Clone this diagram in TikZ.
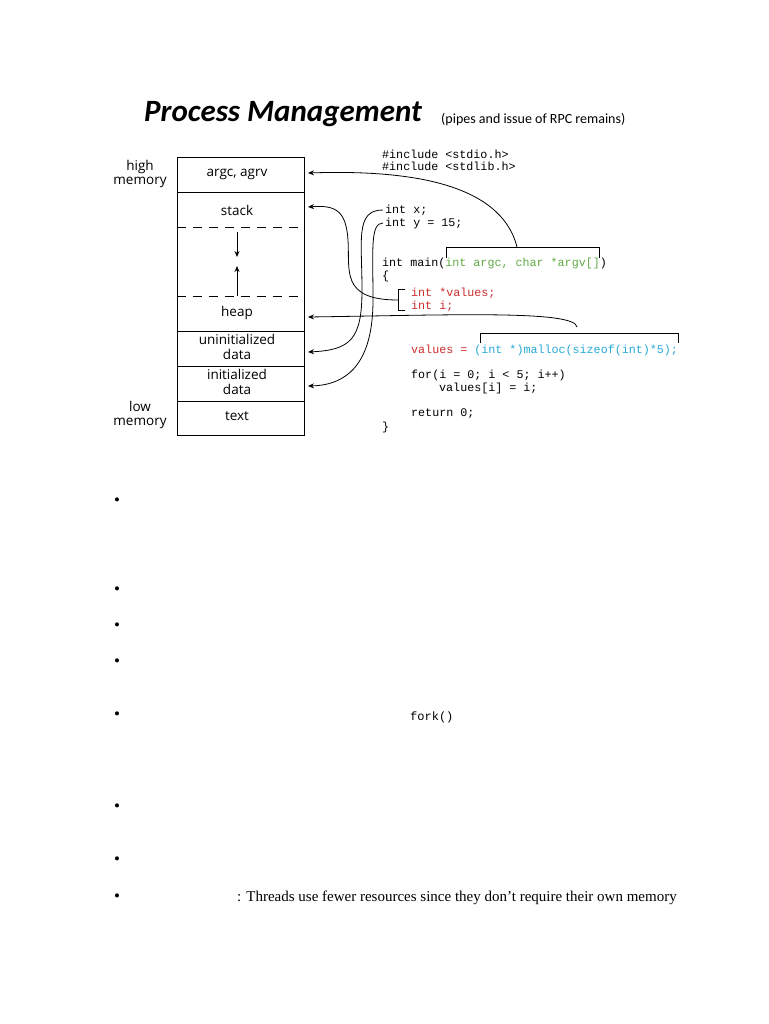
\documentclass[tikz,border=0pt]{standalone}
\usepackage{fontspec}
\setmainfont{Liberation Serif}
\newfontfamily\calfnt{Carlito}
\newfontfamily\labfnt{Open Sans}
\setmonofont{Liberation Mono}
\usetikzlibrary{arrows.meta}
\definecolor{cgreen}{RGB}{95,170,70}
\definecolor{cred}{RGB}{205,45,45}
\definecolor{ccyan}{RGB}{40,170,215}
\begin{document}
\begin{tikzpicture}[x=1pt,y=-1pt,
 lbl/.style={font=\labfnt\fontsize{13.5}{14.5}\selectfont,align=center,inner sep=0},
 code/.style={font=\ttfamily\fontsize{11.7}{12}\selectfont,anchor=west,inner sep=0},
 bul/.style={inner sep=0,font=\fontsize{17}{18}\selectfont},
 arr/.style={-{Stealth[length=6pt,width=5pt]},line width=0.8pt},
 brk/.style={line width=0.8pt}]
\useasboundingbox (0,0) rectangle (768,1024);
\node[anchor=west,inner sep=0,font=\calfnt\bfseries\itshape\fontsize{31}{33}\selectfont] (title) at (144,114) {Process Management};
\node[anchor=west,inner sep=0,font=\calfnt\fontsize{14}{15}\selectfont] (sub) at (441,120) {(pipes and issue of RPC remains)};
% memory box
\draw[line width=0.8pt] (177,157) rectangle (304,435);
\foreach \y in {192,331,366,401} \draw[line width=0.8pt] (177,\y) -- (304,\y);
\draw[dashed,dash pattern=on 9pt off 7pt,line width=0.8pt] (177,227) -- (304,227) (177,296) -- (304,296);
\node[lbl] (argc) at (237,174) {argc, agrv};
\node[lbl] (stack) at (237,210) {stack};
\node[lbl] (heap) at (237,313) {heap};
\node[lbl] (uninit) at (237,347) {uninitialized\\data};
\node[lbl] (init) at (237,382) {initialized\\data};
\node[lbl] (text) at (237,416) {text};
\node[lbl] (high) at (140,174) {high\\memory};
\node[lbl] (low) at (140,415) {low\\memory};
\coordinate (d1) at (237,232); \coordinate (d2) at (237,257);
\coordinate (u1) at (237,296); \coordinate (u2) at (237,266);
\draw[arr] (d1) -- (d2);
\draw[arr] (u1) -- (u2);
% code
\node[code] (inc1) at (382,154) {\#include <stdio.h>};
\node[code] (inc2) at (382,166) {\#include <stdlib.h>};
\node[code] (ix) at (385,210) {int x;};
\node[code] (iy) at (385,223) {int y = 15;};
\node[code] (main) at (382,263) {int main(\textcolor{cgreen}{int argc, char *argv[]})};
\node[code] (ob) at (382,276) {\{};
\node[code,text=cred] (iv) at (411,293) {int *values;};
\node[code,text=cred] (ii) at (411,306) {int i;};
\node[code] (mal) at (411,350) {\textcolor{cred}{values =} \textcolor{ccyan}{(int *)malloc(sizeof(int)*5);}};
\node[code] (for) at (411,375) {for(i = 0; i < 5; i++)};
\node[code] (vi) at (439,388) {values[i] = i;};
\node[code] (ret) at (411,414) {return 0;};
\node[code] (cb) at (382,427) {\}};
% brackets
\draw[brk] (446,258) -- (446,247) -- (599,247) -- (599,258);
\draw[brk] (480,343) -- (480,333) -- (678,333) -- (678,343);
\draw[brk] (405,289) -- (398,289) -- (398,310) -- (405,310);
% arrows
\coordinate (a1) at (517,247); \coordinate (b1) at (308,173);
\draw[arr] (a1) .. controls (500,180) and (400,170) .. (b1);
\coordinate (a2) at (398,300); \coordinate (b2) at (308,207);
\draw[arr] (a2) .. controls (340,300) and (350,270) .. (348,240) .. controls (346,210) and (335,205) .. (b2);
\coordinate (a3) at (577,327); \coordinate (b3) at (308,317);
\draw[arr] (a3) .. controls (575,310) and (450,315) .. (b3);
\coordinate (a4) at (383,210); \coordinate (b4) at (308,352);
\draw[arr] (a4) .. controls (355,210) and (362,240) .. (362,290) .. controls (362,340) and (350,350) .. (b4);
\coordinate (a5) at (383,223); \coordinate (b5) at (308,386);
\draw[arr] (a5) .. controls (370,223) and (373,250) .. (373,300) .. controls (373,360) and (350,385) .. (b5);
% bullets
\foreach \y/\n in {502/p1,591/p2,627/p3,663/p4,716/p5,808/p6,861/p7,898/p8} \node[bul] (\n) at (117,\y) {\textbullet};
\node[code,font=\ttfamily\fontsize{12}{13}\selectfont] (fork) at (410,717) {fork()};
\node[anchor=west,inner sep=0,font=\fontsize{15}{16}\selectfont] (thr) at (237,898) {: Threads use fewer resources since they don’t require their own memory};
\end{tikzpicture}
\end{document}
